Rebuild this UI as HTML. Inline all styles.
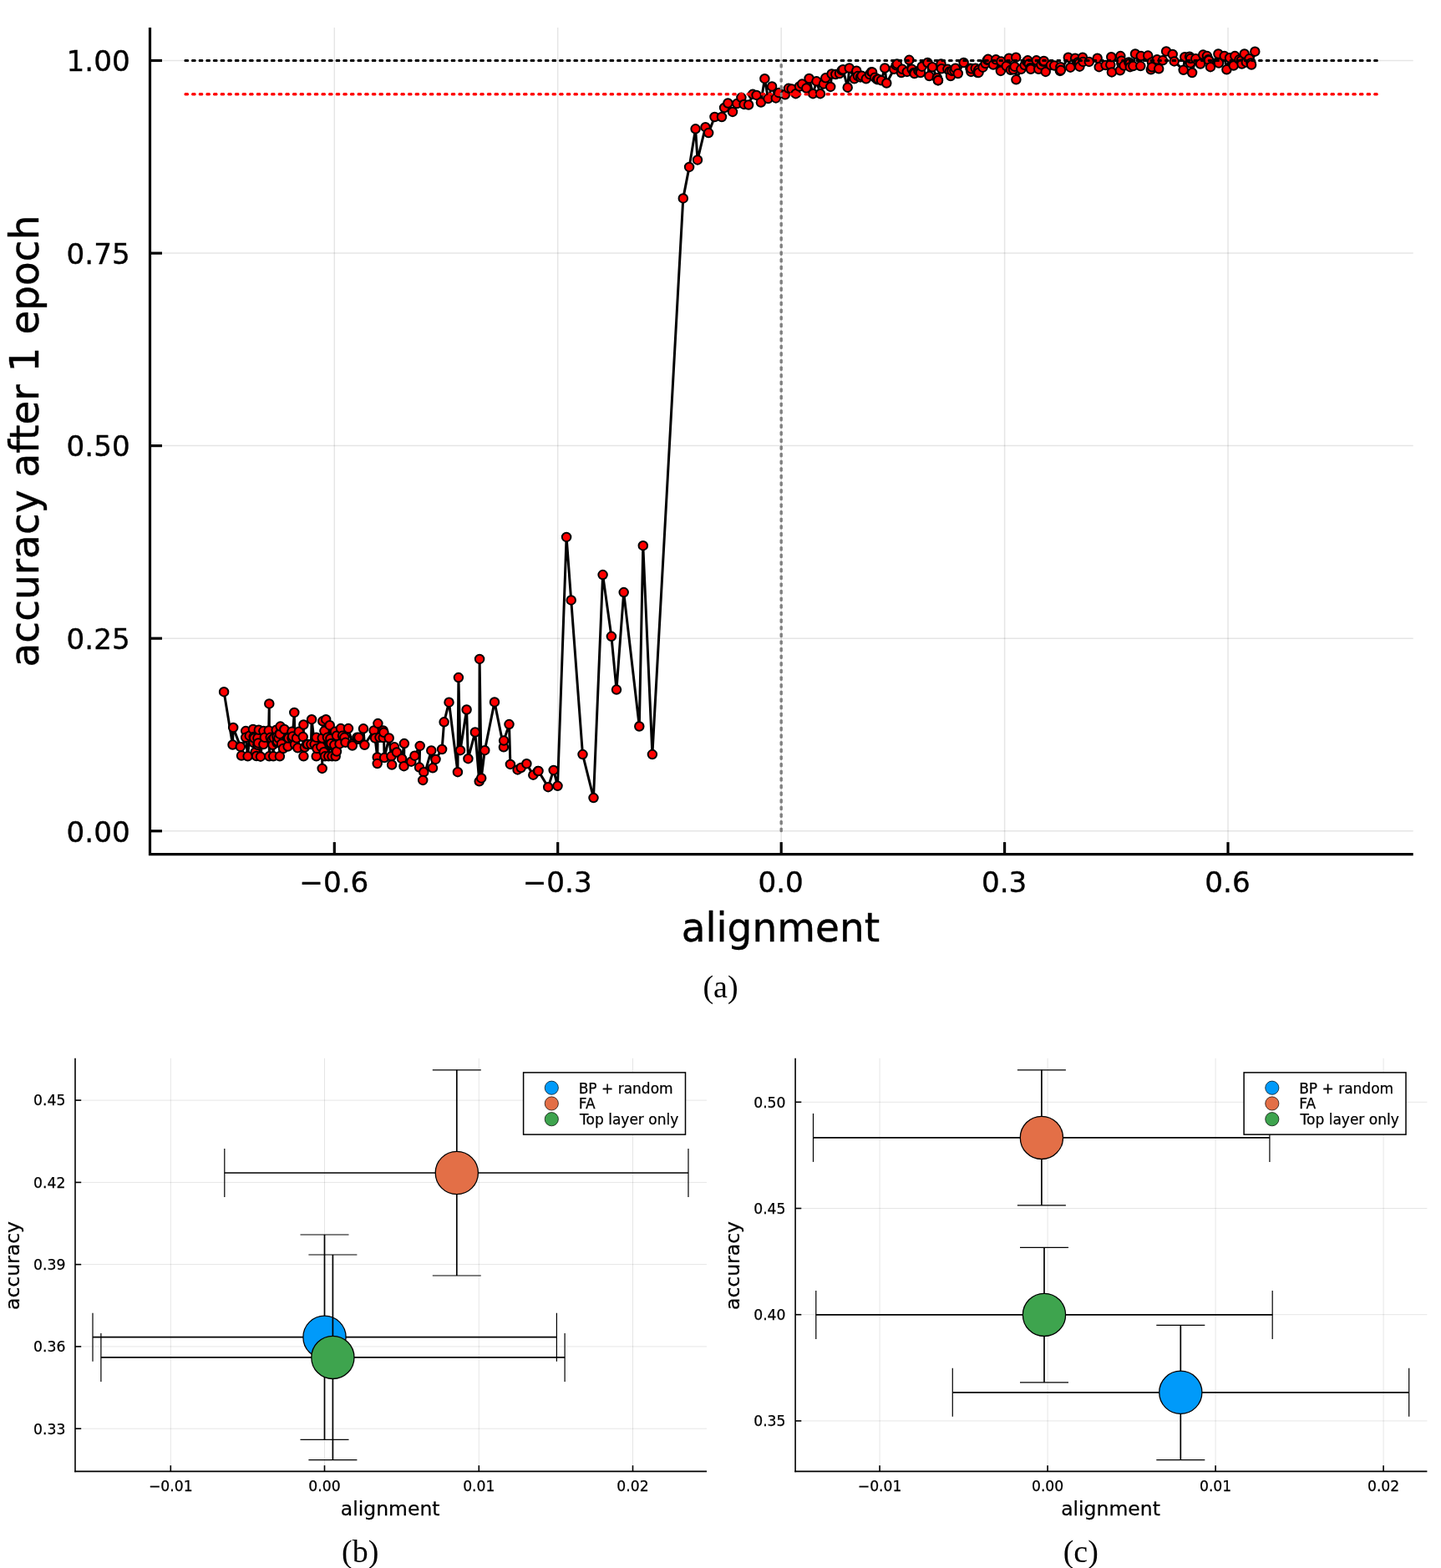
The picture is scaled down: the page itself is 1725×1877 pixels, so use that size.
<!DOCTYPE html>
<html lang="en"><head><meta charset="utf-8"><title>Alignment vs accuracy</title>
<style>
html,body{margin:0;padding:0;background:#fff;}
body{width:1725px;height:1877px;overflow:hidden;}
svg{display:block;}
text{font-family:'DejaVu Sans','Liberation Sans',sans-serif;fill:#000;}
.cap{font-family:'Liberation Serif','DejaVu Serif',serif;font-size:38px;}
.t33{font-size:34.2px;stroke:#000;stroke-width:0.35px;} .t47{font-size:47px;stroke:#000;stroke-width:0.4px;} .t17{font-size:17.2px;stroke:#000;stroke-width:0.25px;} .t23{font-size:23.5px;stroke:#000;stroke-width:0.25px;}
.grid{stroke:#000;stroke-opacity:0.1;stroke-width:1.5;fill:none;}
.grid2{stroke:#000;stroke-opacity:0.1;stroke-width:1;fill:none;}
.ax{stroke:#000;stroke-width:3.2;fill:none;stroke-linecap:butt;}
.ax2{stroke:#000;stroke-width:1.6;fill:none;}
.eb{stroke:#000;stroke-width:1.7;fill:none;}
.cp{stroke:#000;stroke-width:1.2;fill:none;}
.dot{fill:#f00;stroke:#000;stroke-width:2;}
</style></head><body>
<svg width="1725" height="1877" viewBox="0 0 1725 1877">
<rect x="0" y="0" width="1725" height="1877" fill="#fff"/>
<g id="plot-a">
<line class="grid" x1="400.3" y1="33" x2="400.3" y2="1022.6"/>
<line class="grid" x1="667.7" y1="33" x2="667.7" y2="1022.6"/>
<line class="grid" x1="935.2" y1="33" x2="935.2" y2="1022.6"/>
<line class="grid" x1="1202.6" y1="33" x2="1202.6" y2="1022.6"/>
<line class="grid" x1="1470.0" y1="33" x2="1470.0" y2="1022.6"/>
<line class="grid" x1="179.5" y1="72.5" x2="1691.7" y2="72.5"/>
<line class="grid" x1="179.5" y1="303.1" x2="1691.7" y2="303.1"/>
<line class="grid" x1="179.5" y1="533.6" x2="1691.7" y2="533.6"/>
<line class="grid" x1="179.5" y1="764.2" x2="1691.7" y2="764.2"/>
<line class="grid" x1="179.5" y1="994.8" x2="1691.7" y2="994.8"/>
<path d="M268.1,828.2 L278.5,891.5 L279.2,871.0 L287.8,893.9 L289.0,904.6 L294.2,875.1 L294.2,882.8 L296.6,905.3 L298.7,880.7 L302.9,873.0 L303.6,882.1 L303.6,889.0 L304.3,883.5 L305.7,900.2 L307.0,905.0 L308.4,883.5 L308.4,891.8 L309.1,889.6 L309.8,873.7 L311.9,905.7 L315.4,875.1 L315.4,891.1 L316.8,882.8 L321.7,874.4 L322.3,842.4 L322.3,905.3 L323.7,882.8 L325.8,885.3 L326.5,891.8 L327.2,905.3 L327.9,883.5 L330.7,873.7 L331.4,882.1 L331.4,889.0 L332.1,887.5 L333.5,883.5 L334.9,877.9 L334.9,878.7 L334.9,905.3 L335.6,869.6 L337.0,890.4 L339.0,896.0 L340.4,873.0 L344.6,893.5 L345.3,883.5 L349.5,875.8 L349.5,883.5 L350.2,881.6 L352.3,852.9 L353.0,891.1 L355.0,883.5 L356.4,895.3 L357.8,875.8 L362.7,882.1 L363.4,867.5 L363.4,905.3 L364.8,894.6 L367.2,890.9 L368.3,891.1 L372.4,891.1 L373.1,861.2 L376.6,891.1 L378.7,882.8 L378.7,905.3 L379.4,896.0 L384.3,893.9 L385.7,883.5 L385.7,919.9 L386.3,863.3 L387.7,900.2 L388.4,875.1 L389.1,905.3 L390.2,861.2 L391.9,882.8 L393.3,905.3 L394.7,868.2 L395.4,884.2 L396.1,891.8 L396.4,890.0 L397.5,905.3 L400.3,891.8 L401.0,875.8 L401.7,905.3 L403.0,880.7 L403.0,899.5 L406.5,890.4 L407.9,872.1 L410.0,880.7 L412.4,882.8 L413.5,888.8 L417.0,872.1 L421.8,890.4 L421.8,892.5 L427.4,882.8 L429.1,884.8 L429.5,882.8 L435.0,872.3 L436.4,891.8 L447.6,874.4 L449.0,883.5 L451.7,906.4 L451.7,914.1 L452.4,866.1 L454.5,882.8 L458.7,874.4 L458.7,883.1 L459.4,876.8 L460.1,907.1 L465.7,883.5 L468.4,905.3 L469.1,915.5 L472.1,894.3 L474.9,900.5 L481.1,908.2 L483.9,890.1 L483.5,917.2 L492.3,911.7 L496.4,904.7 L502.7,892.9 L502.0,918.6 L507.3,924.2 L506.2,933.9 L516.3,898.4 L518.0,919.3 L521.5,908.9 L529.1,897.0 L531.6,864.3 L537.5,840.7 L547.9,924.2 L548.9,811.1 L551.0,898.2 L558.6,849.5 L560.4,908.2 L568.8,876.5 L573.7,935.3 L574.1,788.9 L576.2,931.4 L580.3,898.2 L592.0,840.4 L602.9,894.3 L603.1,886.6 L609.5,867.1 L610.9,914.9 L619.6,921.4 L623.7,919.0 L630.4,914.2 L638.3,927.7 L643.9,923.1 L644.5,922.9 L656.2,942.2 L662.7,921.9 L667.5,940.8 L678.1,642.9 L683.7,718.4 L697.5,903.1 L710.5,955.1 L721.6,688.1 L731.9,761.8 L738.0,825.6 L746.7,709.1 L765.3,869.5 L769.8,653.2 L780.9,903.1 L817.8,237.4 L825.1,199.9 L832.6,154.3 L835.0,191.4 L844.5,152.2 L848.2,159.1 L855.5,140.0 L864.0,140.0 L867.1,129.0 L871.4,123.5 L877.0,133.9 L882.2,124.1 L887.4,116.8 L890.6,124.9 L896.1,125.5 L901.1,112.8 L905.6,113.9 L910.9,122.6 L915.4,94.2 L919.5,118.0 L924.1,103.5 L928.8,117.4 L932.4,111.0 L939.8,113.3 L943.9,105.8 L947.7,106.4 L952.6,112.2 L957.0,103.5 L960.2,100.6 L965.3,105.6 L968.6,94.0 L973.2,112.2 L977.5,97.3 L981.9,112.2 L985.9,100.6 L988.3,93.3 L994.2,103.9 L995.6,88.5 L1000.3,89.0 L1005.0,88.0 L1007.8,84.2 L1009.1,83.3 L1014.7,104.7 L1016.7,81.5 L1022.7,94.3 L1025.3,84.7 L1026.9,91.1 L1030.0,92.4 L1031.6,90.8 L1036.8,94.3 L1041.0,89.0 L1043.2,86.2 L1044.1,86.4 L1047.2,92.7 L1050.0,95.2 L1051.4,94.8 L1055.0,96.3 L1059.2,81.5 L1061.3,99.5 L1070.2,82.8 L1072.7,78.2 L1073.8,76.5 L1079.0,87.0 L1080.1,82.8 L1085.8,85.9 L1088.4,71.8 L1091.6,82.8 L1093.9,86.9 L1094.7,88.0 L1099.4,84.9 L1101.4,84.5 L1102.0,87.0 L1103.6,79.7 L1110.4,75.0 L1112.4,91.1 L1116.1,80.2 L1121.8,93.2 L1122.9,96.3 L1123.0,96.2 L1126.5,76.5 L1127.0,82.3 L1134.4,82.8 L1136.9,85.4 L1138.0,91.1 L1139.6,84.9 L1142.4,84.8 L1143.7,81.7 L1146.8,88.0 L1153.6,75.0 L1161.4,81.7 L1162.4,85.9 L1162.6,82.3 L1167.7,81.7 L1170.3,87.0 L1171.3,83.8 L1171.5,86.9 L1176.5,80.7 L1179.7,76.0 L1182.0,71.9 L1182.8,70.8 L1189.0,77.6 L1192.2,71.3 L1197.9,84.9 L1198.4,73.4 L1204.7,79.1 L1207.8,69.7 L1209.9,83.8 L1213.0,83.2 L1214.6,79.7 L1216.2,68.7 L1216.4,95.3 L1222.4,82.8 L1226.6,78.1 L1229.1,73.7 L1230.3,72.3 L1231.8,76.5 L1233.5,81.2 L1233.9,82.8 L1240.7,72.3 L1243.3,82.8 L1246.4,77.6 L1248.7,73.8 L1249.6,72.9 L1251.7,85.9 L1257.9,78.1 L1262.1,78.6 L1268.9,84.9 L1269.4,80.2 L1269.9,84.1 L1278.8,68.7 L1281.4,80.7 L1287.1,69.7 L1290.3,74.4 L1292.0,75.6 L1292.4,79.7 L1296.0,68.7 L1296.5,73.9 L1303.8,73.9 L1313.7,69.7 L1315.7,80.2 L1323.6,78.1 L1329.3,77.6 L1330.3,68.2 L1330.9,86.4 L1340.8,84.3 L1341.3,67.1 L1342.3,75.5 L1342.5,72.8 L1345.5,78.6 L1351.2,74.4 L1352.7,75.8 L1352.8,80.2 L1356.4,79.1 L1359.0,64.5 L1365.3,79.1 L1365.8,67.1 L1374.2,66.6 L1377.8,83.3 L1378.9,74.4 L1379.0,80.3 L1385.1,71.3 L1387.2,82.3 L1391.9,72.3 L1396.1,61.4 L1403.7,65.0 L1405.7,73.4 L1416.7,83.8 L1418.3,68.2 L1424.0,67.7 L1425.0,75.5 L1425.2,70.1 L1427.1,87.0 L1431.3,70.3 L1437.0,76.5 L1440.2,65.6 L1444.9,67.1 L1446.7,71.2 L1447.0,72.3 L1449.0,80.2 L1458.4,64.5 L1459.0,75.5 L1465.7,67.1 L1468.4,83.3 L1472.0,69.2 L1476.7,78.6 L1478.3,67.1 L1483.5,71.3 L1485.8,72.4 L1486.6,76.5 L1489.7,64.5 L1491.8,74.4 L1495.5,70.3 L1497.5,75.4 L1498.1,77.6 L1502.3,61.7" fill="none" stroke="#000" stroke-width="3" stroke-linejoin="round" stroke-linecap="round"/>
<g class="dot">
<circle cx="268.1" cy="828.2" r="5.25"/>
<circle cx="278.5" cy="891.5" r="5.25"/>
<circle cx="279.2" cy="871.0" r="5.25"/>
<circle cx="287.8" cy="893.9" r="5.25"/>
<circle cx="289.0" cy="904.6" r="5.25"/>
<circle cx="294.2" cy="875.1" r="5.25"/>
<circle cx="294.2" cy="882.8" r="5.25"/>
<circle cx="296.6" cy="905.3" r="5.25"/>
<circle cx="298.7" cy="880.7" r="5.25"/>
<circle cx="302.9" cy="873.0" r="5.25"/>
<circle cx="303.6" cy="882.1" r="5.25"/>
<circle cx="303.6" cy="889.0" r="5.25"/>
<circle cx="304.3" cy="883.5" r="5.25"/>
<circle cx="305.7" cy="900.2" r="5.25"/>
<circle cx="307.0" cy="905.0" r="5.25"/>
<circle cx="308.4" cy="883.5" r="5.25"/>
<circle cx="308.4" cy="891.8" r="5.25"/>
<circle cx="309.1" cy="889.6" r="5.25"/>
<circle cx="309.8" cy="873.7" r="5.25"/>
<circle cx="311.9" cy="905.7" r="5.25"/>
<circle cx="315.4" cy="875.1" r="5.25"/>
<circle cx="315.4" cy="891.1" r="5.25"/>
<circle cx="316.8" cy="882.8" r="5.25"/>
<circle cx="321.7" cy="874.4" r="5.25"/>
<circle cx="322.3" cy="842.4" r="5.25"/>
<circle cx="322.3" cy="905.3" r="5.25"/>
<circle cx="323.7" cy="882.8" r="5.25"/>
<circle cx="325.8" cy="885.3" r="5.25"/>
<circle cx="326.5" cy="891.8" r="5.25"/>
<circle cx="327.2" cy="905.3" r="5.25"/>
<circle cx="327.9" cy="883.5" r="5.25"/>
<circle cx="330.7" cy="873.7" r="5.25"/>
<circle cx="331.4" cy="882.1" r="5.25"/>
<circle cx="331.4" cy="889.0" r="5.25"/>
<circle cx="332.1" cy="887.5" r="5.25"/>
<circle cx="333.5" cy="883.5" r="5.25"/>
<circle cx="334.9" cy="877.9" r="5.25"/>
<circle cx="334.9" cy="878.7" r="5.25"/>
<circle cx="334.9" cy="905.3" r="5.25"/>
<circle cx="335.6" cy="869.6" r="5.25"/>
<circle cx="337.0" cy="890.4" r="5.25"/>
<circle cx="339.0" cy="896.0" r="5.25"/>
<circle cx="340.4" cy="873.0" r="5.25"/>
<circle cx="344.6" cy="893.5" r="5.25"/>
<circle cx="345.3" cy="883.5" r="5.25"/>
<circle cx="349.5" cy="875.8" r="5.25"/>
<circle cx="349.5" cy="883.5" r="5.25"/>
<circle cx="350.2" cy="881.6" r="5.25"/>
<circle cx="352.3" cy="852.9" r="5.25"/>
<circle cx="353.0" cy="891.1" r="5.25"/>
<circle cx="355.0" cy="883.5" r="5.25"/>
<circle cx="356.4" cy="895.3" r="5.25"/>
<circle cx="357.8" cy="875.8" r="5.25"/>
<circle cx="362.7" cy="882.1" r="5.25"/>
<circle cx="363.4" cy="867.5" r="5.25"/>
<circle cx="363.4" cy="905.3" r="5.25"/>
<circle cx="364.8" cy="894.6" r="5.25"/>
<circle cx="367.2" cy="890.9" r="5.25"/>
<circle cx="368.3" cy="891.1" r="5.25"/>
<circle cx="372.4" cy="891.1" r="5.25"/>
<circle cx="373.1" cy="861.2" r="5.25"/>
<circle cx="376.6" cy="891.1" r="5.25"/>
<circle cx="378.7" cy="882.8" r="5.25"/>
<circle cx="378.7" cy="905.3" r="5.25"/>
<circle cx="379.4" cy="896.0" r="5.25"/>
<circle cx="384.3" cy="893.9" r="5.25"/>
<circle cx="385.7" cy="883.5" r="5.25"/>
<circle cx="385.7" cy="919.9" r="5.25"/>
<circle cx="386.3" cy="863.3" r="5.25"/>
<circle cx="387.7" cy="900.2" r="5.25"/>
<circle cx="388.4" cy="875.1" r="5.25"/>
<circle cx="389.1" cy="905.3" r="5.25"/>
<circle cx="390.2" cy="861.2" r="5.25"/>
<circle cx="391.9" cy="882.8" r="5.25"/>
<circle cx="393.3" cy="905.3" r="5.25"/>
<circle cx="394.7" cy="868.2" r="5.25"/>
<circle cx="395.4" cy="884.2" r="5.25"/>
<circle cx="396.1" cy="891.8" r="5.25"/>
<circle cx="396.4" cy="890.0" r="5.25"/>
<circle cx="397.5" cy="905.3" r="5.25"/>
<circle cx="400.3" cy="891.8" r="5.25"/>
<circle cx="401.0" cy="875.8" r="5.25"/>
<circle cx="401.7" cy="905.3" r="5.25"/>
<circle cx="403.0" cy="880.7" r="5.25"/>
<circle cx="403.0" cy="899.5" r="5.25"/>
<circle cx="406.5" cy="890.4" r="5.25"/>
<circle cx="407.9" cy="872.1" r="5.25"/>
<circle cx="410.0" cy="880.7" r="5.25"/>
<circle cx="412.4" cy="882.8" r="5.25"/>
<circle cx="413.5" cy="888.8" r="5.25"/>
<circle cx="417.0" cy="872.1" r="5.25"/>
<circle cx="421.8" cy="890.4" r="5.25"/>
<circle cx="421.8" cy="892.5" r="5.25"/>
<circle cx="427.4" cy="882.8" r="5.25"/>
<circle cx="429.1" cy="884.8" r="5.25"/>
<circle cx="429.5" cy="882.8" r="5.25"/>
<circle cx="435.0" cy="872.3" r="5.25"/>
<circle cx="436.4" cy="891.8" r="5.25"/>
<circle cx="447.6" cy="874.4" r="5.25"/>
<circle cx="449.0" cy="883.5" r="5.25"/>
<circle cx="451.7" cy="906.4" r="5.25"/>
<circle cx="451.7" cy="914.1" r="5.25"/>
<circle cx="452.4" cy="866.1" r="5.25"/>
<circle cx="454.5" cy="882.8" r="5.25"/>
<circle cx="458.7" cy="874.4" r="5.25"/>
<circle cx="458.7" cy="883.1" r="5.25"/>
<circle cx="459.4" cy="876.8" r="5.25"/>
<circle cx="460.1" cy="907.1" r="5.25"/>
<circle cx="465.7" cy="883.5" r="5.25"/>
<circle cx="468.4" cy="905.3" r="5.25"/>
<circle cx="469.1" cy="915.5" r="5.25"/>
<circle cx="472.1" cy="894.3" r="5.25"/>
<circle cx="474.9" cy="900.5" r="5.25"/>
<circle cx="481.1" cy="908.2" r="5.25"/>
<circle cx="483.9" cy="890.1" r="5.25"/>
<circle cx="483.5" cy="917.2" r="5.25"/>
<circle cx="492.3" cy="911.7" r="5.25"/>
<circle cx="496.4" cy="904.7" r="5.25"/>
<circle cx="502.7" cy="892.9" r="5.25"/>
<circle cx="502.0" cy="918.6" r="5.25"/>
<circle cx="507.3" cy="924.2" r="5.25"/>
<circle cx="506.2" cy="933.9" r="5.25"/>
<circle cx="516.3" cy="898.4" r="5.25"/>
<circle cx="518.0" cy="919.3" r="5.25"/>
<circle cx="521.5" cy="908.9" r="5.25"/>
<circle cx="529.1" cy="897.0" r="5.25"/>
<circle cx="531.6" cy="864.3" r="5.25"/>
<circle cx="537.5" cy="840.7" r="5.25"/>
<circle cx="547.9" cy="924.2" r="5.25"/>
<circle cx="548.9" cy="811.1" r="5.25"/>
<circle cx="551.0" cy="898.2" r="5.25"/>
<circle cx="558.6" cy="849.5" r="5.25"/>
<circle cx="560.4" cy="908.2" r="5.25"/>
<circle cx="568.8" cy="876.5" r="5.25"/>
<circle cx="573.7" cy="935.3" r="5.25"/>
<circle cx="574.1" cy="788.9" r="5.25"/>
<circle cx="576.2" cy="931.4" r="5.25"/>
<circle cx="580.3" cy="898.2" r="5.25"/>
<circle cx="592.0" cy="840.4" r="5.25"/>
<circle cx="602.9" cy="894.3" r="5.25"/>
<circle cx="603.1" cy="886.6" r="5.25"/>
<circle cx="609.5" cy="867.1" r="5.25"/>
<circle cx="610.9" cy="914.9" r="5.25"/>
<circle cx="619.6" cy="921.4" r="5.25"/>
<circle cx="623.7" cy="919.0" r="5.25"/>
<circle cx="630.4" cy="914.2" r="5.25"/>
<circle cx="638.3" cy="927.7" r="5.25"/>
<circle cx="643.9" cy="923.1" r="5.25"/>
<circle cx="644.5" cy="922.9" r="5.25"/>
<circle cx="656.2" cy="942.2" r="5.25"/>
<circle cx="662.7" cy="921.9" r="5.25"/>
<circle cx="667.5" cy="940.8" r="5.25"/>
<circle cx="678.1" cy="642.9" r="5.25"/>
<circle cx="683.7" cy="718.4" r="5.25"/>
<circle cx="697.5" cy="903.1" r="5.25"/>
<circle cx="710.5" cy="955.1" r="5.25"/>
<circle cx="721.6" cy="688.1" r="5.25"/>
<circle cx="731.9" cy="761.8" r="5.25"/>
<circle cx="738.0" cy="825.6" r="5.25"/>
<circle cx="746.7" cy="709.1" r="5.25"/>
<circle cx="765.3" cy="869.5" r="5.25"/>
<circle cx="769.8" cy="653.2" r="5.25"/>
<circle cx="780.9" cy="903.1" r="5.25"/>
<circle cx="817.8" cy="237.4" r="5.25"/>
<circle cx="825.1" cy="199.9" r="5.25"/>
<circle cx="832.6" cy="154.3" r="5.25"/>
<circle cx="835.0" cy="191.4" r="5.25"/>
<circle cx="844.5" cy="152.2" r="5.25"/>
<circle cx="848.2" cy="159.1" r="5.25"/>
<circle cx="855.5" cy="140.0" r="5.25"/>
<circle cx="864.0" cy="140.0" r="5.25"/>
<circle cx="867.1" cy="129.0" r="5.25"/>
<circle cx="871.4" cy="123.5" r="5.25"/>
<circle cx="877.0" cy="133.9" r="5.25"/>
<circle cx="882.2" cy="124.1" r="5.25"/>
<circle cx="887.4" cy="116.8" r="5.25"/>
<circle cx="890.6" cy="124.9" r="5.25"/>
<circle cx="896.1" cy="125.5" r="5.25"/>
<circle cx="901.1" cy="112.8" r="5.25"/>
<circle cx="905.6" cy="113.9" r="5.25"/>
<circle cx="910.9" cy="122.6" r="5.25"/>
<circle cx="915.4" cy="94.2" r="5.25"/>
<circle cx="919.5" cy="118.0" r="5.25"/>
<circle cx="924.1" cy="103.5" r="5.25"/>
<circle cx="928.8" cy="117.4" r="5.25"/>
<circle cx="932.4" cy="111.0" r="5.25"/>
<circle cx="939.8" cy="113.3" r="5.25"/>
<circle cx="943.9" cy="105.8" r="5.25"/>
<circle cx="947.7" cy="106.4" r="5.25"/>
<circle cx="952.6" cy="112.2" r="5.25"/>
<circle cx="957.0" cy="103.5" r="5.25"/>
<circle cx="960.2" cy="100.6" r="5.25"/>
<circle cx="965.3" cy="105.6" r="5.25"/>
<circle cx="968.6" cy="94.0" r="5.25"/>
<circle cx="973.2" cy="112.2" r="5.25"/>
<circle cx="977.5" cy="97.3" r="5.25"/>
<circle cx="981.9" cy="112.2" r="5.25"/>
<circle cx="985.9" cy="100.6" r="5.25"/>
<circle cx="988.3" cy="93.3" r="5.25"/>
<circle cx="994.2" cy="103.9" r="5.25"/>
<circle cx="995.6" cy="88.5" r="5.25"/>
<circle cx="1000.3" cy="89.0" r="5.25"/>
<circle cx="1005.0" cy="88.0" r="5.25"/>
<circle cx="1007.8" cy="84.2" r="5.25"/>
<circle cx="1009.1" cy="83.3" r="5.25"/>
<circle cx="1014.7" cy="104.7" r="5.25"/>
<circle cx="1016.7" cy="81.5" r="5.25"/>
<circle cx="1022.7" cy="94.3" r="5.25"/>
<circle cx="1025.3" cy="84.7" r="5.25"/>
<circle cx="1026.9" cy="91.1" r="5.25"/>
<circle cx="1030.0" cy="92.4" r="5.25"/>
<circle cx="1031.6" cy="90.8" r="5.25"/>
<circle cx="1036.8" cy="94.3" r="5.25"/>
<circle cx="1041.0" cy="89.0" r="5.25"/>
<circle cx="1043.2" cy="86.2" r="5.25"/>
<circle cx="1044.1" cy="86.4" r="5.25"/>
<circle cx="1047.2" cy="92.7" r="5.25"/>
<circle cx="1050.0" cy="95.2" r="5.25"/>
<circle cx="1051.4" cy="94.8" r="5.25"/>
<circle cx="1055.0" cy="96.3" r="5.25"/>
<circle cx="1059.2" cy="81.5" r="5.25"/>
<circle cx="1061.3" cy="99.5" r="5.25"/>
<circle cx="1070.2" cy="82.8" r="5.25"/>
<circle cx="1072.7" cy="78.2" r="5.25"/>
<circle cx="1073.8" cy="76.5" r="5.25"/>
<circle cx="1079.0" cy="87.0" r="5.25"/>
<circle cx="1080.1" cy="82.8" r="5.25"/>
<circle cx="1085.8" cy="85.9" r="5.25"/>
<circle cx="1088.4" cy="71.8" r="5.25"/>
<circle cx="1091.6" cy="82.8" r="5.25"/>
<circle cx="1093.9" cy="86.9" r="5.25"/>
<circle cx="1094.7" cy="88.0" r="5.25"/>
<circle cx="1099.4" cy="84.9" r="5.25"/>
<circle cx="1101.4" cy="84.5" r="5.25"/>
<circle cx="1102.0" cy="87.0" r="5.25"/>
<circle cx="1103.6" cy="79.7" r="5.25"/>
<circle cx="1110.4" cy="75.0" r="5.25"/>
<circle cx="1112.4" cy="91.1" r="5.25"/>
<circle cx="1116.1" cy="80.2" r="5.25"/>
<circle cx="1121.8" cy="93.2" r="5.25"/>
<circle cx="1122.9" cy="96.3" r="5.25"/>
<circle cx="1123.0" cy="96.2" r="5.25"/>
<circle cx="1126.5" cy="76.5" r="5.25"/>
<circle cx="1127.0" cy="82.3" r="5.25"/>
<circle cx="1134.4" cy="82.8" r="5.25"/>
<circle cx="1136.9" cy="85.4" r="5.25"/>
<circle cx="1138.0" cy="91.1" r="5.25"/>
<circle cx="1139.6" cy="84.9" r="5.25"/>
<circle cx="1142.4" cy="84.8" r="5.25"/>
<circle cx="1143.7" cy="81.7" r="5.25"/>
<circle cx="1146.8" cy="88.0" r="5.25"/>
<circle cx="1153.6" cy="75.0" r="5.25"/>
<circle cx="1161.4" cy="81.7" r="5.25"/>
<circle cx="1162.4" cy="85.9" r="5.25"/>
<circle cx="1162.6" cy="82.3" r="5.25"/>
<circle cx="1167.7" cy="81.7" r="5.25"/>
<circle cx="1170.3" cy="87.0" r="5.25"/>
<circle cx="1171.3" cy="83.8" r="5.25"/>
<circle cx="1171.5" cy="86.9" r="5.25"/>
<circle cx="1176.5" cy="80.7" r="5.25"/>
<circle cx="1179.7" cy="76.0" r="5.25"/>
<circle cx="1182.0" cy="71.9" r="5.25"/>
<circle cx="1182.8" cy="70.8" r="5.25"/>
<circle cx="1189.0" cy="77.6" r="5.25"/>
<circle cx="1192.2" cy="71.3" r="5.25"/>
<circle cx="1197.9" cy="84.9" r="5.25"/>
<circle cx="1198.4" cy="73.4" r="5.25"/>
<circle cx="1204.7" cy="79.1" r="5.25"/>
<circle cx="1207.8" cy="69.7" r="5.25"/>
<circle cx="1209.9" cy="83.8" r="5.25"/>
<circle cx="1213.0" cy="83.2" r="5.25"/>
<circle cx="1214.6" cy="79.7" r="5.25"/>
<circle cx="1216.2" cy="68.7" r="5.25"/>
<circle cx="1216.4" cy="95.3" r="5.25"/>
<circle cx="1222.4" cy="82.8" r="5.25"/>
<circle cx="1226.6" cy="78.1" r="5.25"/>
<circle cx="1229.1" cy="73.7" r="5.25"/>
<circle cx="1230.3" cy="72.3" r="5.25"/>
<circle cx="1231.8" cy="76.5" r="5.25"/>
<circle cx="1233.5" cy="81.2" r="5.25"/>
<circle cx="1233.9" cy="82.8" r="5.25"/>
<circle cx="1240.7" cy="72.3" r="5.25"/>
<circle cx="1243.3" cy="82.8" r="5.25"/>
<circle cx="1246.4" cy="77.6" r="5.25"/>
<circle cx="1248.7" cy="73.8" r="5.25"/>
<circle cx="1249.6" cy="72.9" r="5.25"/>
<circle cx="1251.7" cy="85.9" r="5.25"/>
<circle cx="1257.9" cy="78.1" r="5.25"/>
<circle cx="1262.1" cy="78.6" r="5.25"/>
<circle cx="1268.9" cy="84.9" r="5.25"/>
<circle cx="1269.4" cy="80.2" r="5.25"/>
<circle cx="1269.9" cy="84.1" r="5.25"/>
<circle cx="1278.8" cy="68.7" r="5.25"/>
<circle cx="1281.4" cy="80.7" r="5.25"/>
<circle cx="1287.1" cy="69.7" r="5.25"/>
<circle cx="1290.3" cy="74.4" r="5.25"/>
<circle cx="1292.0" cy="75.6" r="5.25"/>
<circle cx="1292.4" cy="79.7" r="5.25"/>
<circle cx="1296.0" cy="68.7" r="5.25"/>
<circle cx="1296.5" cy="73.9" r="5.25"/>
<circle cx="1303.8" cy="73.9" r="5.25"/>
<circle cx="1313.7" cy="69.7" r="5.25"/>
<circle cx="1315.7" cy="80.2" r="5.25"/>
<circle cx="1323.6" cy="78.1" r="5.25"/>
<circle cx="1329.3" cy="77.6" r="5.25"/>
<circle cx="1330.3" cy="68.2" r="5.25"/>
<circle cx="1330.9" cy="86.4" r="5.25"/>
<circle cx="1340.8" cy="84.3" r="5.25"/>
<circle cx="1341.3" cy="67.1" r="5.25"/>
<circle cx="1342.3" cy="75.5" r="5.25"/>
<circle cx="1342.5" cy="72.8" r="5.25"/>
<circle cx="1345.5" cy="78.6" r="5.25"/>
<circle cx="1351.2" cy="74.4" r="5.25"/>
<circle cx="1352.7" cy="75.8" r="5.25"/>
<circle cx="1352.8" cy="80.2" r="5.25"/>
<circle cx="1356.4" cy="79.1" r="5.25"/>
<circle cx="1359.0" cy="64.5" r="5.25"/>
<circle cx="1365.3" cy="79.1" r="5.25"/>
<circle cx="1365.8" cy="67.1" r="5.25"/>
<circle cx="1374.2" cy="66.6" r="5.25"/>
<circle cx="1377.8" cy="83.3" r="5.25"/>
<circle cx="1378.9" cy="74.4" r="5.25"/>
<circle cx="1379.0" cy="80.3" r="5.25"/>
<circle cx="1385.1" cy="71.3" r="5.25"/>
<circle cx="1387.2" cy="82.3" r="5.25"/>
<circle cx="1391.9" cy="72.3" r="5.25"/>
<circle cx="1396.1" cy="61.4" r="5.25"/>
<circle cx="1403.7" cy="65.0" r="5.25"/>
<circle cx="1405.7" cy="73.4" r="5.25"/>
<circle cx="1416.7" cy="83.8" r="5.25"/>
<circle cx="1418.3" cy="68.2" r="5.25"/>
<circle cx="1424.0" cy="67.7" r="5.25"/>
<circle cx="1425.0" cy="75.5" r="5.25"/>
<circle cx="1425.2" cy="70.1" r="5.25"/>
<circle cx="1427.1" cy="87.0" r="5.25"/>
<circle cx="1431.3" cy="70.3" r="5.25"/>
<circle cx="1437.0" cy="76.5" r="5.25"/>
<circle cx="1440.2" cy="65.6" r="5.25"/>
<circle cx="1444.9" cy="67.1" r="5.25"/>
<circle cx="1446.7" cy="71.2" r="5.25"/>
<circle cx="1447.0" cy="72.3" r="5.25"/>
<circle cx="1449.0" cy="80.2" r="5.25"/>
<circle cx="1458.4" cy="64.5" r="5.25"/>
<circle cx="1459.0" cy="75.5" r="5.25"/>
<circle cx="1465.7" cy="67.1" r="5.25"/>
<circle cx="1468.4" cy="83.3" r="5.25"/>
<circle cx="1472.0" cy="69.2" r="5.25"/>
<circle cx="1476.7" cy="78.6" r="5.25"/>
<circle cx="1478.3" cy="67.1" r="5.25"/>
<circle cx="1483.5" cy="71.3" r="5.25"/>
<circle cx="1485.8" cy="72.4" r="5.25"/>
<circle cx="1486.6" cy="76.5" r="5.25"/>
<circle cx="1489.7" cy="64.5" r="5.25"/>
<circle cx="1491.8" cy="74.4" r="5.25"/>
<circle cx="1495.5" cy="70.3" r="5.25"/>
<circle cx="1497.5" cy="75.4" r="5.25"/>
<circle cx="1498.1" cy="77.6" r="5.25"/>
<circle cx="1502.3" cy="61.7" r="5.25"/>
</g>
<line x1="935.2" y1="994.7" x2="935.2" y2="72.4" stroke="#808080" stroke-width="3" stroke-linecap="round" stroke-dasharray="2.7 5.9285"/>
<line x1="935.2" y1="995.4" x2="935.2" y2="71.7" stroke="#808080" stroke-width="3" stroke-dasharray="4.1 4.5285"/>
<line x1="221.9" y1="112.8" x2="1648.6" y2="112.8" stroke="#f00" stroke-width="3" stroke-linecap="round" stroke-dasharray="2.7 5.9285"/>
<line x1="221.2" y1="112.8" x2="1649.3" y2="112.8" stroke="#f00" stroke-width="3" stroke-dasharray="4.1 4.5285"/>
<line x1="221.9" y1="72.5" x2="1648.6" y2="72.5" stroke="#000" stroke-width="3" stroke-linecap="round" stroke-dasharray="2.7 5.9285"/>
<line x1="221.2" y1="72.5" x2="1649.3" y2="72.5" stroke="#000" stroke-width="3" stroke-dasharray="4.1 4.5285"/>
<line class="ax" x1="179.5" y1="33" x2="179.5" y2="1024.1"/>
<line class="ax" x1="178.0" y1="1022.6" x2="1691.7" y2="1022.6"/>
<line class="ax" x1="400.3" y1="1022.6" x2="400.3" y2="1008.1"/>
<text class="t33" x="399.8" y="1067.9" text-anchor="middle">−0.6</text>
<line class="ax" x1="667.7" y1="1022.6" x2="667.7" y2="1008.1"/>
<text class="t33" x="667.2" y="1067.9" text-anchor="middle">−0.3</text>
<line class="ax" x1="935.2" y1="1022.6" x2="935.2" y2="1008.1"/>
<text class="t33" x="934.7" y="1067.9" text-anchor="middle">0.0</text>
<line class="ax" x1="1202.6" y1="1022.6" x2="1202.6" y2="1008.1"/>
<text class="t33" x="1202.1" y="1067.9" text-anchor="middle">0.3</text>
<line class="ax" x1="1470.0" y1="1022.6" x2="1470.0" y2="1008.1"/>
<text class="t33" x="1469.5" y="1067.9" text-anchor="middle">0.6</text>
<line class="ax" x1="179.5" y1="72.5" x2="194.0" y2="72.5"/>
<text class="t33" x="155.7" y="85.2" text-anchor="end">1.00</text>
<line class="ax" x1="179.5" y1="303.1" x2="194.0" y2="303.1"/>
<text class="t33" x="155.7" y="315.8" text-anchor="end">0.75</text>
<line class="ax" x1="179.5" y1="533.6" x2="194.0" y2="533.6"/>
<text class="t33" x="155.7" y="546.3" text-anchor="end">0.50</text>
<line class="ax" x1="179.5" y1="764.2" x2="194.0" y2="764.2"/>
<text class="t33" x="155.7" y="776.9" text-anchor="end">0.25</text>
<line class="ax" x1="179.5" y1="994.8" x2="194.0" y2="994.8"/>
<text class="t33" x="155.7" y="1007.5" text-anchor="end">0.00</text>
<text class="t47" transform="translate(934.4,1126.6) scale(1,1.025)" text-anchor="middle">alignment</text>
<text class="t47" transform="translate(46.2,528) rotate(-90) scale(1,1.025)" text-anchor="middle">accuracy after 1 epoch</text>
</g>
<text class="cap" x="862.5" y="1193.7" text-anchor="middle">(a)</text>
<g id="plot-b">
<line class="grid2" x1="204.3" y1="1266.8" x2="204.3" y2="1761.4"/>
<line class="grid2" x1="388.5" y1="1266.8" x2="388.5" y2="1761.4"/>
<line class="grid2" x1="573.3" y1="1266.8" x2="573.3" y2="1761.4"/>
<line class="grid2" x1="757.5" y1="1266.8" x2="757.5" y2="1761.4"/>
<line class="grid2" x1="90.0" y1="1317.1" x2="846" y2="1317.1"/>
<line class="grid2" x1="90.0" y1="1415.4" x2="846" y2="1415.4"/>
<line class="grid2" x1="90.0" y1="1513.65" x2="846" y2="1513.65"/>
<line class="grid2" x1="90.0" y1="1611.9" x2="846" y2="1611.9"/>
<line class="grid2" x1="90.0" y1="1710.2" x2="846" y2="1710.2"/>
<line class="eb" x1="111" y1="1600.7" x2="666.4" y2="1600.7"/>
<line class="eb" x1="388.5" y1="1478" x2="388.5" y2="1723.4"/>
<line class="cp" x1="111" y1="1571.7" x2="111" y2="1629.7"/>
<line class="cp" x1="666.4" y1="1571.7" x2="666.4" y2="1629.7"/>
<line class="cp" x1="359.5" y1="1478" x2="417.5" y2="1478"/>
<line class="cp" x1="359.5" y1="1723.4" x2="417.5" y2="1723.4"/>
<circle cx="388.5" cy="1600.7" r="25.6" fill="#009AFA" stroke="#000" stroke-width="1.3"/>
<line class="eb" x1="268.8" y1="1404" x2="824" y2="1404"/>
<line class="eb" x1="546.8" y1="1280.8" x2="546.8" y2="1527"/>
<line class="cp" x1="268.8" y1="1375" x2="268.8" y2="1433"/>
<line class="cp" x1="824" y1="1375" x2="824" y2="1433"/>
<line class="cp" x1="517.8" y1="1280.8" x2="575.8" y2="1280.8"/>
<line class="cp" x1="517.8" y1="1527" x2="575.8" y2="1527"/>
<circle cx="546.8" cy="1404" r="25.6" fill="#E36F47" stroke="#000" stroke-width="1.3"/>
<line class="eb" x1="120.9" y1="1624.9" x2="676.1" y2="1624.9"/>
<line class="eb" x1="398.4" y1="1502" x2="398.4" y2="1747.6"/>
<line class="cp" x1="120.9" y1="1595.9" x2="120.9" y2="1653.9"/>
<line class="cp" x1="676.1" y1="1595.9" x2="676.1" y2="1653.9"/>
<line class="cp" x1="369.4" y1="1502" x2="427.4" y2="1502"/>
<line class="cp" x1="369.4" y1="1747.6" x2="427.4" y2="1747.6"/>
<circle cx="398.4" cy="1624.9" r="25.6" fill="#3EA44E" stroke="#000" stroke-width="1.3"/>
<line class="ax2" x1="90.0" y1="1266.8" x2="90.0" y2="1762.15"/>
<line class="ax2" x1="89.25" y1="1761.4" x2="846" y2="1761.4"/>
<line class="ax2" x1="204.3" y1="1761.4" x2="204.3" y2="1754.2"/>
<text class="t17" x="204.3" y="1784.5" text-anchor="middle">−0.01</text>
<line class="ax2" x1="388.5" y1="1761.4" x2="388.5" y2="1754.2"/>
<text class="t17" x="388.5" y="1784.5" text-anchor="middle">0.00</text>
<line class="ax2" x1="573.3" y1="1761.4" x2="573.3" y2="1754.2"/>
<text class="t17" x="573.3" y="1784.5" text-anchor="middle">0.01</text>
<line class="ax2" x1="757.5" y1="1761.4" x2="757.5" y2="1754.2"/>
<text class="t17" x="757.5" y="1784.5" text-anchor="middle">0.02</text>
<line class="ax2" x1="90.0" y1="1317.1" x2="97.2" y2="1317.1"/>
<text class="t17" x="78.4" y="1323.4" text-anchor="end">0.45</text>
<line class="ax2" x1="90.0" y1="1415.4" x2="97.2" y2="1415.4"/>
<text class="t17" x="78.4" y="1421.7" text-anchor="end">0.42</text>
<line class="ax2" x1="90.0" y1="1513.65" x2="97.2" y2="1513.65"/>
<text class="t17" x="78.4" y="1520.0" text-anchor="end">0.39</text>
<line class="ax2" x1="90.0" y1="1611.9" x2="97.2" y2="1611.9"/>
<text class="t17" x="78.4" y="1618.2" text-anchor="end">0.36</text>
<line class="ax2" x1="90.0" y1="1710.2" x2="97.2" y2="1710.2"/>
<text class="t17" x="78.4" y="1716.5" text-anchor="end">0.33</text>
<text class="t23" x="467.2" y="1813.8" text-anchor="middle">alignment</text>
<text class="t23" transform="translate(22.6,1515.0) rotate(-90)" text-anchor="middle">accuracy</text>
<rect x="626.6" y="1283.9" width="193.9" height="74.2" fill="#fff" stroke="#000" stroke-width="1.5"/>
<circle cx="660.3000000000001" cy="1302.2" r="8.1" fill="#009AFA" stroke="#000" stroke-width="0.7"/>
<text class="t17" style="font-size:17px" x="692.7" y="1308.5">BP + random</text>
<circle cx="660.3000000000001" cy="1320.95" r="8.1" fill="#E36F47" stroke="#000" stroke-width="0.7"/>
<text class="t17" style="font-size:17px" x="692.7" y="1327.2">FA</text>
<circle cx="660.3000000000001" cy="1339.7" r="8.1" fill="#3EA44E" stroke="#000" stroke-width="0.7"/>
<text class="t17" style="font-size:17px" x="694.1" y="1346.0">Top layer only</text>
</g>
<text class="cap" x="431.25" y="1870" text-anchor="middle">(b)</text>
<g id="plot-c">
<line class="grid2" x1="1053.1" y1="1266.8" x2="1053.1" y2="1761.4"/>
<line class="grid2" x1="1254.1" y1="1266.8" x2="1254.1" y2="1761.4"/>
<line class="grid2" x1="1455.1" y1="1266.8" x2="1455.1" y2="1761.4"/>
<line class="grid2" x1="1656.1" y1="1266.8" x2="1656.1" y2="1761.4"/>
<line class="grid2" x1="952.1" y1="1319.3" x2="1708.4" y2="1319.3"/>
<line class="grid2" x1="952.1" y1="1446.5" x2="1708.4" y2="1446.5"/>
<line class="grid2" x1="952.1" y1="1573.7" x2="1708.4" y2="1573.7"/>
<line class="grid2" x1="952.1" y1="1700.9" x2="1708.4" y2="1700.9"/>
<line class="eb" x1="1140.3" y1="1666.8" x2="1686.7" y2="1666.8"/>
<line class="eb" x1="1413.3" y1="1586.4" x2="1413.3" y2="1747.6"/>
<line class="cp" x1="1140.3" y1="1637.8" x2="1140.3" y2="1695.8"/>
<line class="cp" x1="1686.7" y1="1637.8" x2="1686.7" y2="1695.8"/>
<line class="cp" x1="1384.3" y1="1586.4" x2="1442.3" y2="1586.4"/>
<line class="cp" x1="1384.3" y1="1747.6" x2="1442.3" y2="1747.6"/>
<circle cx="1413.3" cy="1666.8" r="25.6" fill="#009AFA" stroke="#000" stroke-width="1.3"/>
<line class="eb" x1="973.5" y1="1361.9" x2="1519.9" y2="1361.9"/>
<line class="eb" x1="1246.9" y1="1280.8" x2="1246.9" y2="1442.8"/>
<line class="cp" x1="973.5" y1="1332.9" x2="973.5" y2="1390.9"/>
<line class="cp" x1="1519.9" y1="1332.9" x2="1519.9" y2="1390.9"/>
<line class="cp" x1="1217.9" y1="1280.8" x2="1275.9" y2="1280.8"/>
<line class="cp" x1="1217.9" y1="1442.8" x2="1275.9" y2="1442.8"/>
<circle cx="1246.9" cy="1361.9" r="25.6" fill="#E36F47" stroke="#000" stroke-width="1.3"/>
<line class="eb" x1="976.8" y1="1573.9" x2="1523.2" y2="1573.9"/>
<line class="eb" x1="1250" y1="1493.3" x2="1250" y2="1654.8"/>
<line class="cp" x1="976.8" y1="1544.9" x2="976.8" y2="1602.9"/>
<line class="cp" x1="1523.2" y1="1544.9" x2="1523.2" y2="1602.9"/>
<line class="cp" x1="1221" y1="1493.3" x2="1279" y2="1493.3"/>
<line class="cp" x1="1221" y1="1654.8" x2="1279" y2="1654.8"/>
<circle cx="1250" cy="1573.9" r="25.6" fill="#3EA44E" stroke="#000" stroke-width="1.3"/>
<line class="ax2" x1="952.1" y1="1266.8" x2="952.1" y2="1762.15"/>
<line class="ax2" x1="951.35" y1="1761.4" x2="1708.4" y2="1761.4"/>
<line class="ax2" x1="1053.1" y1="1761.4" x2="1053.1" y2="1754.2"/>
<text class="t17" x="1053.1" y="1784.5" text-anchor="middle">−0.01</text>
<line class="ax2" x1="1254.1" y1="1761.4" x2="1254.1" y2="1754.2"/>
<text class="t17" x="1254.1" y="1784.5" text-anchor="middle">0.00</text>
<line class="ax2" x1="1455.1" y1="1761.4" x2="1455.1" y2="1754.2"/>
<text class="t17" x="1455.1" y="1784.5" text-anchor="middle">0.01</text>
<line class="ax2" x1="1656.1" y1="1761.4" x2="1656.1" y2="1754.2"/>
<text class="t17" x="1656.1" y="1784.5" text-anchor="middle">0.02</text>
<line class="ax2" x1="952.1" y1="1319.3" x2="959.3000000000001" y2="1319.3"/>
<text class="t17" x="940.5" y="1325.6" text-anchor="end">0.50</text>
<line class="ax2" x1="952.1" y1="1446.5" x2="959.3000000000001" y2="1446.5"/>
<text class="t17" x="940.5" y="1452.8" text-anchor="end">0.45</text>
<line class="ax2" x1="952.1" y1="1573.7" x2="959.3000000000001" y2="1573.7"/>
<text class="t17" x="940.5" y="1580.0" text-anchor="end">0.40</text>
<line class="ax2" x1="952.1" y1="1700.9" x2="959.3000000000001" y2="1700.9"/>
<text class="t17" x="940.5" y="1707.2" text-anchor="end">0.35</text>
<text class="t23" x="1329.5" y="1813.8" text-anchor="middle">alignment</text>
<text class="t23" transform="translate(884.7,1515.0) rotate(-90)" text-anchor="middle">accuracy</text>
<rect x="1489.1" y="1283.9" width="193.9" height="74.2" fill="#fff" stroke="#000" stroke-width="1.5"/>
<circle cx="1522.8" cy="1302.2" r="8.1" fill="#009AFA" stroke="#000" stroke-width="0.7"/>
<text class="t17" style="font-size:17px" x="1555.2" y="1308.5">BP + random</text>
<circle cx="1522.8" cy="1320.95" r="8.1" fill="#E36F47" stroke="#000" stroke-width="0.7"/>
<text class="t17" style="font-size:17px" x="1555.2" y="1327.2">FA</text>
<circle cx="1522.8" cy="1339.7" r="8.1" fill="#3EA44E" stroke="#000" stroke-width="0.7"/>
<text class="t17" style="font-size:17px" x="1556.6" y="1346.0">Top layer only</text>
</g>
<text class="cap" x="1293.75" y="1870" text-anchor="middle">(c)</text>
</svg>
</body></html>
